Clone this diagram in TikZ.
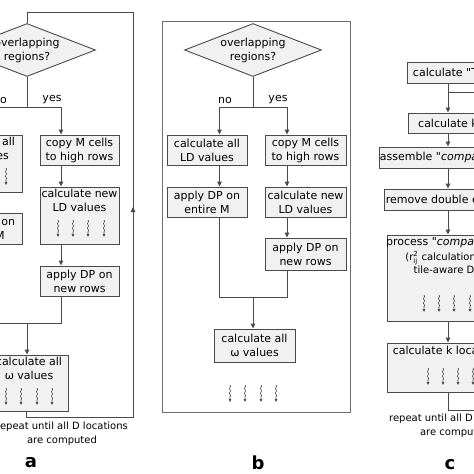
\documentclass[tikz,border=0pt]{standalone}
\usepackage{fontspec}
\setmainfont{DejaVu Sans}
\usetikzlibrary{shapes.geometric, arrows.meta, positioning,
                decorations.pathmorphing}
\definecolor{linegray}{HTML}{4A4A4A}
\definecolor{boxfill}{HTML}{F1F1F1}
\definecolor{framegray}{HTML}{6E6E6E}
\tikzset{
  box/.style={
    rectangle, draw=linegray, fill=boxfill, line width=0.9pt,
    align=center, inner sep=0pt,
    font=\fontsize{11}{14}\selectfont
  },
  boxtext/.style={
    align=center, inner sep=0pt,
    font=\fontsize{11}{14}\selectfont
  },
  decision/.style={
    diamond, draw=linegray, fill=boxfill, line width=0.9pt,
    align=center, inner sep=0pt, aspect=2.6,
    minimum width=137pt, minimum height=53pt,
    font=\fontsize{11}{14}\selectfont
  },
  arrow/.style={-{Triangle[length=5pt,width=4.6pt]}, line width=0.9pt, linegray},
  line/.style={line width=0.9pt, linegray},
  squig/.style={
    decorate, decoration={snake, amplitude=0.6pt, segment length=4.5pt,
    post length=3pt}, line width=0.6pt, linegray,
    -{Triangle[length=3pt,width=2.6pt]}
  },
  lbl/.style={inner sep=0pt, font=\fontsize{11}{14}\selectfont},
  note/.style={inner sep=0pt, align=center, font=\fontsize{10}{14}\selectfont},
  panel/.style={inner sep=0pt, font=\fontsize{18}{18}\selectfont\bfseries}
}

\begin{document}
\begin{tikzpicture}[x=1pt, y=-1pt]
  \useasboundingbox (0,0) rectangle (474,474);
  \clip (0,0) rectangle (474,474);
  \fill[white] (0,0) rectangle (474,474);

  % Panel a
  \node[decision] (adec) at (27,50) {overlapping\\regions?};
  \node[box, minimum width=80pt, minimum height=57pt] (ald) at (-18,163.5) {};
  \node[boxtext, below=2pt of ald.north] (aldtxt) {calculate all\\LD values};
  \node[box, minimum width=80pt, minimum height=31pt] (adpm) at (-18,228.5)
    {apply DP on\\entire M};
  \node[box, minimum width=79pt, minimum height=30pt] (acopy) at (79.5,150)
    {copy M cells\\to high rows};
  \node[box, minimum width=79pt, minimum height=57pt] (anew) at (79.5,215.5) {};
  \node[boxtext, below=2pt of anew.north] (anewtxt) {calculate new\\LD values};
  \node[box, minimum width=79pt, minimum height=30pt] (adpn) at (79.5,281)
    {apply DP on\\new rows};
  \node[box, minimum width=78pt, minimum height=56pt] (aom) at (29,383) {};
  \node[boxtext, below=2pt of aom.north] (aomtxt) {calculate all\\ω values};
  \foreach \x in {-40,-25,-9,6}{%
    \draw[squig] (\x,168) -- (\x,185);}
  \foreach \x in {58,73,88,104}{%
    \draw[squig] (\x,220) -- (\x,237);}
  \foreach \x in {6,21,37,52}{%
    \draw[squig] (\x,388) -- (\x,405);}
  % branches
  \coordinate (asplit) at (27,107);
  \coordinate (asplitl) at (-6,107);
  \coordinate (asplitr) at (61,107);
  \coordinate (ajoin) at (27,323);
  \draw[line] (adec.south) -- (asplit);
  \draw[line] (asplitl) -- (asplitr);
  \draw[arrow] (asplitl) -- (asplitl |- ald.north);
  \draw[arrow] (asplitr) -- (asplitr |- acopy.north);
  \draw[arrow] (asplitl |- ald.south) -- (asplitl |- adpm.north);
  \draw[arrow] (asplitr |- acopy.south) -- (asplitr |- anew.north);
  \draw[arrow] (asplitr |- anew.south) -- (asplitr |- adpn.north);
  \draw[line] (asplitl |- adpm.south) -- (asplitl |- ajoin) -- (asplitr |- ajoin)
    -- (asplitr |- adpn.south);
  \draw[arrow] (ajoin) -- (ajoin |- aom.north);
  \node[lbl] (ano) at (0,100) {no};
  \node[lbl] (ayes) at (52,100) {yes};
  % loop
  \coordinate (aloopbl) at (26,417);
  \coordinate (aloopbr) at (133,417);
  \coordinate (aloopmid) at (133,207);
  \coordinate (aloopt) at (133,12);
  \draw[line] (aloopbl |- aom.south) -- (aloopbl) -- (aloopbr) -- (aloopt)
    -- (adec.north |- aloopt) -- (adec.north);
  \draw[arrow] (aloopbr) -- (aloopmid);
  \node[note] (anote) at (62,434) {repeat until all D locations\\are computed};
  \node[panel] (alabel) at (31,463) {a};

  % Panel b
  \draw[framegray, line width=0.9pt] (162,21) rectangle (350,412);
  \node[decision] (bdec) at (253,50) {overlapping\\regions?};
  \node[box, minimum width=80pt, minimum height=30pt] (bld) at (207,150)
    {calculate all\\LD values};
  \node[box, minimum width=81pt, minimum height=30pt] (bcopy) at (305.5,150)
    {copy M cells\\to high rows};
  \node[box, minimum width=80pt, minimum height=30pt] (bdpm) at (207,202)
    {apply DP on\\entire M};
  \node[box, minimum width=81pt, minimum height=30pt] (bnew) at (305.5,202)
    {calculate new\\LD values};
  \node[box, minimum width=81pt, minimum height=32pt] (bdpn) at (305.5,254)
    {apply DP on\\new rows};
  \node[box, minimum width=81pt, minimum height=33pt] (bom) at (254.5,345.5)
    {calculate all\\ω values};
  \foreach \x in {230,245,261,276}{%
    \draw[squig] (\x,385) -- (\x,402);}
  % branches
  \coordinate (bsplit) at (253,107);
  \coordinate (bsplitl) at (219.5,107);
  \coordinate (bsplitr) at (287,107);
  \coordinate (bjoin) at (253,297);
  \draw[line] (bdec.south) -- (bsplit);
  \draw[line] (bsplitl) -- (bsplitr);
  \draw[arrow] (bsplitl) -- (bsplitl |- bld.north);
  \draw[arrow] (bsplitr) -- (bsplitr |- bcopy.north);
  \draw[arrow] (bsplitl |- bld.south) -- (bsplitl |- bdpm.north);
  \draw[arrow] (bsplitr |- bcopy.south) -- (bsplitr |- bnew.north);
  \draw[arrow] (bsplitr |- bnew.south) -- (bsplitr |- bdpn.north);
  \draw[line] (bsplitl |- bdpm.south) -- (bsplitl |- bjoin) -- (bsplitr |- bjoin)
    -- (bsplitr |- bdpn.south);
  \draw[arrow] (bjoin) -- (bjoin |- bom.north);
  \node[lbl] (bno) at (225,100) {no};
  \node[lbl] (byes) at (278,100) {yes};
  \node[panel] (blabel) at (258,463) {b};

  % Panel c
  \node[box, minimum width=82pt, minimum height=21pt] (ctl) at (448,72.5)
    {calculate \textquotedbl T\textquotedbl};
  \node[box, minimum width=80pt, minimum height=20pt] (ck) at (448,123)
    {calculate k};
  \node[box, minimum width=138pt, minimum height=21pt] (casm) at (448,157.5)
    {assemble \textquotedbl\textit{comparisons}\textquotedbl};
  \node[box, minimum width=128pt, minimum height=21pt] (crem) at (448,199.5)
    {remove double entries};
  \node[box, minimum width=124pt, minimum height=86pt] (cproc) at (449,278) {};
  \node[boxtext, below=2pt of cproc.north] (cproctxt)
    {process \textquotedbl\textit{comparisons}\textquotedbl};
  \node[boxtext, below=3.5pt of cproctxt, font=\fontsize{10}{10.5}\selectfont]
    (cprocsub) {($\mbox{r}^{\mbox{\scriptsize 2}}_{\mbox{\scriptsize ij}}$
     calculations +\\tile-aware DP)};
  \node[box, minimum width=124pt, minimum height=49pt] (cloc) at (449,367.5) {};
  \node[boxtext, below=3pt of cloc.north] (cloctxt) {calculate k locations};
  \foreach \x in {424,439,454,470}{%
    \draw[squig] (\x,295) -- (\x,312);}
  \foreach \x in {428,443,458,473}{%
    \draw[squig] (\x,368) -- (\x,385);}
  % connectors
  \coordinate (cmerge) at (448,92);
  \coordinate (cstem) at (448,410);
  \coordinate (cloopr) at (500,410);
  \draw[line] (cmerge -| ctl.south) -- (cmerge);
  \draw[arrow] (cmerge |- ctl.south) -- (cmerge |- ck.north);
  \draw[arrow] (cmerge |- ck.south) -- (cmerge |- casm.north);
  \draw[arrow] (cmerge |- casm.south) -- (cmerge |- crem.north);
  \draw[arrow] (cmerge |- crem.south) -- (cmerge |- cproc.north);
  \draw[arrow] (cmerge |- cproc.south) -- (cmerge |- cloc.north);
  \draw[line] (cstem |- cloc.south) -- (cstem) -- (cloopr) -- (cloopr |- cmerge)
    -- (cmerge);
  \node[note] (cnote) at (455,426) {repeat until all D locations\\are computed};
  \node[panel] (clabel) at (450,465) {c};
\end{tikzpicture}
\end{document}
